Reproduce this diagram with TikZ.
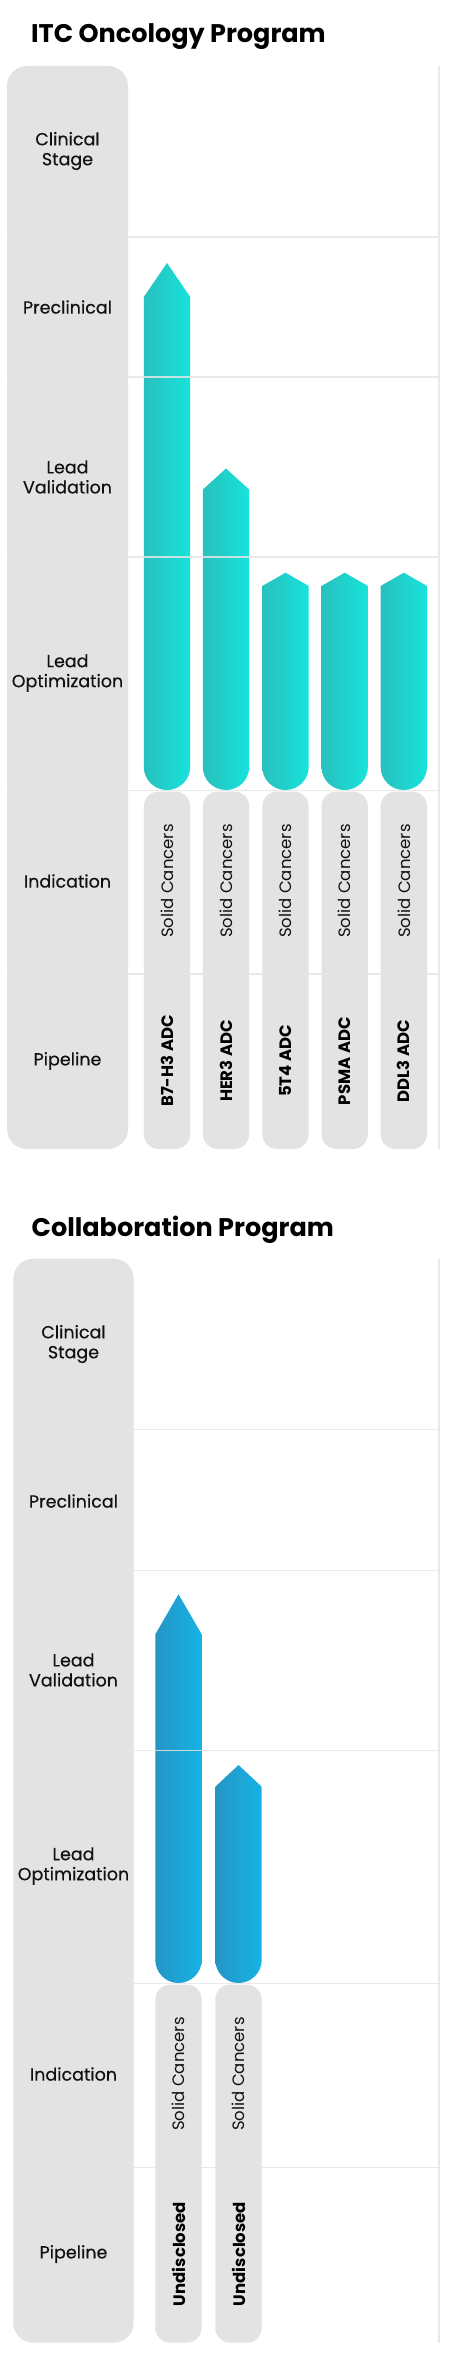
\documentclass[tikz,border=0pt]{standalone}
\usepackage{fontspec}
\setmainfont{Poppins}
\newfontfamily\medfont{Poppins}[FakeBold=0.35]
\usepackage{tikz}
\usetikzlibrary{positioning}
\definecolor{colgray}{HTML}{E3E3E3}
\definecolor{gridgray}{HTML}{E6E6E6}
\definecolor{tealL}{HTML}{29C0BD}
\definecolor{tealR}{HTML}{16E3DC}
\definecolor{blueL}{HTML}{2695C5}
\definecolor{blueR}{HTML}{15B3E5}
\definecolor{txt}{HTML}{111111}
\tikzstyle{progtitle} = [anchor=base west, inner sep=0pt, text=black,
    font=\fontsize{25.5}{28}\selectfont\bfseries]
\tikzstyle{stagelabel} = [align=center, inner sep=0pt, text=txt,
    font=\medfont\fontsize{17.5}{20}\selectfont]
\tikzstyle{indtext} = [rotate=90, inner sep=0pt, text=txt,
    font=\fontsize{16.5}{20}\selectfont]
\tikzstyle{pipetext} = [rotate=90, inner sep=0pt, text=black,
    font=\fontsize{16.5}{20}\selectfont\bfseries]
\tikzstyle{gridline} = [draw=gridgray, line width=1.2pt, opacity=0.85]
\tikzstyle{pill} = [fill=colgray, rounded corners=15pt]

\begin{document}
\begin{tikzpicture}[x=1pt, y=-1pt]
    \fill[white] (0,0) rectangle (474,2360);
    \useasboundingbox (0,0) rectangle (474,2360);

    % ITC Oncology Program
    \node[progtitle] (itcTitle) at (31,43) {ITC Oncology Program};
    \fill[colgray, rounded corners=20pt] (7,66) rectangle (128,1149);
    \foreach \x/\tip/\sh/\name [count=\i] in {167/263/297/B7-H3 ADC, 226/468.5/489.6/HER3 ADC,
            285.5/572.7/586/5T4 ADC, 344.7/572.7/586/PSMA ADC, 403.8/572.7/586/DDL3 ADC}{
        \fill[pill] (\x-23.2,791.5) rectangle (\x+23.2,1149);
        \shade[left color=tealL, right color=tealR] (\x-23.2,\sh) -- (\x,\tip) -- (\x+23.2,\sh)
            -- (\x+23.2,766.8) arc[start angle=0, end angle=-180, radius=23.2pt] -- cycle;
        \node[indtext] (itcInd\i) at (\x,881) {Solid Cancers};
        \node[pipetext] (itcPipe\i) at (\x,1061) {\name};
    }
    \foreach \y in {237,377,557,790.7,974}
        \draw[gridline] (7,\y) -- (439,\y);
    \draw[gridline] (439,66) -- (439,1149);
    \node[stagelabel] (itcClin) at (67.5,151) {Clinical\\Stage};
    \node[stagelabel] (itcPre) at (67.5,307) {Preclinical};
    \node[stagelabel] (itcVal) at (67.5,477) {Lead\\Validation};
    \node[stagelabel] (itcOpt) at (67.5,673) {Lead\\Optimization};
    \node[stagelabel] (itcInd) at (67.5,881) {Indication};
    \node[stagelabel] (itcPipe) at (67.5,1061) {Pipeline};

    % Collaboration Program
    \node[progtitle] (colTitle) at (31.5,1236) {Collaboration Program};
    \fill[colgray, rounded corners=20pt] (13.3,1258.7) rectangle (133.7,2342.7);
    \foreach \x/\tip/\sh [count=\i] in {178.5/1594.3/1634.3, 238.5/1765/1786.7}{
        \fill[pill] (\x-23.2,1984.5) rectangle (\x+23.2,2342.7);
        \shade[left color=blueL, right color=blueR] (\x-23.2,\sh) -- (\x,\tip) -- (\x+23.2,\sh)
            -- (\x+23.2,1959.8) arc[start angle=0, end angle=-180, radius=23.2pt] -- cycle;
        \node[indtext] (colInd\i) at (\x,2074) {Solid Cancers};
        \node[pipetext] (colPipe\i) at (\x,2254) {Undisclosed};
    }
    \foreach \y in {1429.3,1570.5,1750.3,1983.7,2167.3}
        \draw[gridline] (13.3,\y) -- (439,\y);
    \draw[gridline] (439,1258.7) -- (439,2342.7);
    \node[stagelabel] (colClin) at (73.5,1344) {Clinical\\Stage};
    \node[stagelabel] (colPre) at (73.5,1501) {Preclinical};
    \node[stagelabel] (colVal) at (73.5,1670) {Lead\\Validation};
    \node[stagelabel] (colOpt) at (73.5,1866) {Lead\\Optimization};
    \node[stagelabel] (colInd) at (73.5,2074) {Indication};
    \node[stagelabel] (colPipe) at (73.5,2254) {Pipeline};
\end{tikzpicture}
\end{document}
